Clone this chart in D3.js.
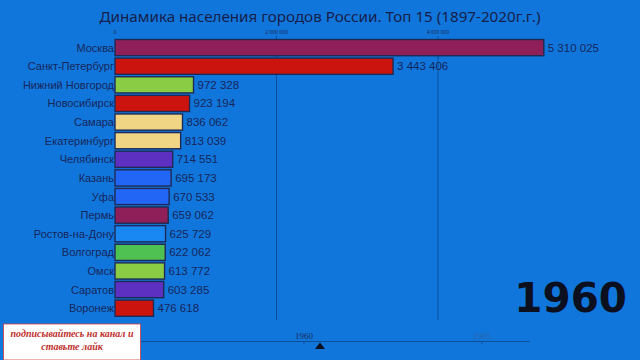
<!DOCTYPE html>
<html><head><meta charset="utf-8">
<script src="https://cdn.jsdelivr.net/npm/d3@7"></script>
<style>body{margin:0;background:#1176DB;}svg{display:block;}</style>
</head><body>
<script>
const cities = ["Москва","Санкт-Петербург","Нижний Новгород","Новосибирск","Самара","Екатеринбург","Челябинск","Казань","Уфа","Пермь","Ростов-на-Дону","Волгоград","Омск","Саратов","Воронеж"];
const population = [5310025,3443406,972328,923194,836062,813039,714551,695173,670533,659062,625729,622062,613772,603285,476618];
const barColors = ["#8E1F58","#CC140E","#8ACD44","#CC140E","#F0D584","#F0D584","#5E30C2","#2166F5","#2166F5","#8E1F58","#1A88F2","#4FC152","#8ACD44","#5E30C2","#CC140E"];
const axisTicks = [0,2000000,4000000];
const timelineYears = [1960,1965];
const currentYear = 1960.45;
const yearLabel = "1960";
const title = "Динамика населения городов России. Топ 15 (1897-2020г.г.)";
const promo = ["подписывайтесь на канал и","ставьте лайк"];

const W=640,H=360;
const svg=d3.select("body").append("svg").attr("width",W).attr("height",H);
svg.append("rect").attr("width",W).attr("height",H).attr("fill","#1176DB");

const x=d3.scaleLinear().domain([0,4000000]).range([115,438]);
const y=d3.scaleBand().domain(cities).range([38.3,317.5]).paddingInner(0.13).paddingOuter(0.065);

svg.append("text").attr("x",320).attr("y",22).attr("text-anchor","middle")
  .attr("font-family","Noto Sans").attr("font-size",15.2).attr("fill","#16204A").text(title);

// grid
const g=svg.append("g");
g.selectAll("line.grid").data(axisTicks.filter(d=>d>0)).join("line")
  .attr("x1",d=>x(d)).attr("x2",d=>x(d)).attr("y1",36).attr("y2",320)
  .attr("stroke","#0B4E9C").attr("stroke-width",1);
g.selectAll("text.tick").data(axisTicks).join("text")
  .attr("x",d=>x(d)).attr("y",34).attr("text-anchor","middle")
  .attr("font-family","Noto Sans").attr("font-size",5).attr("fill","#1B2550")
  .text(d=>d3.format(",")(d).replace(/,/g," "));

// bars
svg.selectAll("rect.bar").data(cities).join("rect")
  .attr("x",x(0)).attr("y",d=>y(d)).attr("height",y.bandwidth())
  .attr("width",(d,i)=>x(population[i])-x(0))
  .attr("fill",(d,i)=>barColors[i]).attr("stroke","#1E2A55").attr("stroke-width",1.4);

svg.selectAll("text.city").data(cities).join("text")
  .attr("x",x(0)-1).attr("y",d=>y(d)+y.bandwidth()/2+4)
  .attr("text-anchor","end").attr("font-family","Liberation Sans").attr("font-size",11)
  .attr("fill","#17265A").text(d=>d);

svg.selectAll("text.val").data(cities).join("text")
  .attr("x",(d,i)=>x(population[i])+4).attr("y",d=>y(d)+y.bandwidth()/2+4)
  .attr("font-family","Liberation Sans").attr("font-size",11.5)
  .attr("fill","#17265A").text((d,i)=>d3.format(",")(population[i]).replace(/,/g," "));

// big year
svg.append("text").attr("x",627).attr("y",312).attr("text-anchor","end")
  .attr("font-family","DejaVu Sans").attr("font-weight","bold").attr("font-size",40.5)
  .attr("fill","#0B0F1E").text(yearLabel);

// timeline
const t=d3.scaleLinear().domain([1960,1965]).range([304,482]);
svg.append("line").attr("x1",100).attr("x2",530).attr("y1",341.5).attr("y2",341.5)
  .attr("stroke","#0D4F95").attr("stroke-width",1.2);
svg.selectAll("line.tt").data(timelineYears).join("line")
  .attr("x1",d=>t(d)).attr("x2",d=>t(d)).attr("y1",341.5).attr("y2",344)
  .attr("stroke","#0D4F95");
svg.selectAll("text.ty").data(timelineYears).join("text")
  .attr("x",d=>t(d)).attr("y",339).attr("text-anchor","middle")
  .attr("font-family","Liberation Serif").attr("font-size",9)
  .attr("fill",d=>d===1960?"#1B2A5A":"#2E62A8").text(d=>d);
const tx=t(currentYear);
svg.append("path").attr("d",`M${tx},342.5 L${tx-5},349 L${tx+5},349 Z`).attr("fill","#0B0F1E");

// promo box
svg.append("rect").attr("x",3.5).attr("y",324).attr("width",137).attr("height",36)
  .attr("fill","#FFFFFF").attr("stroke","#D04040").attr("stroke-width",0.8);
svg.selectAll("text.promo").data(promo).join("text")
  .attr("x",72).attr("y",(d,i)=>337+i*13).attr("text-anchor","middle")
  .attr("font-family","Liberation Serif").attr("font-style","italic").attr("font-weight","bold")
  .attr("font-size",10).attr("fill","#C0302C").text(d=>d);
</script>
</body></html>
